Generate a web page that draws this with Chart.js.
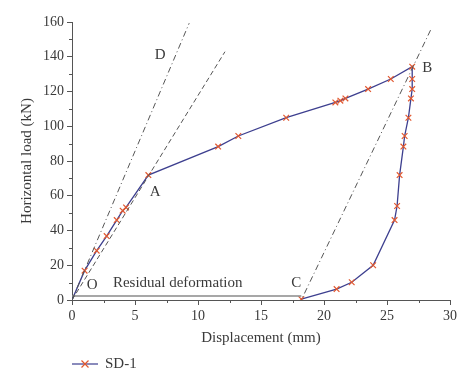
<!DOCTYPE html>
<html>
<head>
<meta charset="utf-8">
<script src="https://cdn.jsdelivr.net/npm/chart.js@4.4.1/dist/chart.umd.min.js"></script>
<style>
  html, body { margin: 0; padding: 0; background: #fff; }
  #wrap { width: 474px; height: 387px; }
</style>
</head>
<body>
<div id="wrap"><canvas id="chart"></canvas></div>
<script>
// ---------- dados ----------
const dispSD1 = [0, 1.0, 1.96, 2.75, 3.55, 4.02, 4.29, 6.06, 11.6, 13.2, 17.0, 20.9, 21.3, 21.7, 23.5, 25.3, 27.0,
                 27.0, 27.0, 26.9, 26.7, 26.4, 26.3, 26.0, 25.8, 25.6, 23.9, 22.2, 21.0, 18.2];
const loadSD1 = [0, 16.9, 28.4, 36.8, 46.0, 51.4, 53.3, 71.9, 88.3, 94.4, 104.9, 113.7, 114.7, 116.0, 121.4, 127.2, 134.3,
                 127.2, 121.4, 116.0, 104.9, 94.4, 88.3, 71.9, 54.1, 46.0, 20.0, 10.2, 6.3, 0.5];

// rectas de referência
const lineOD = [[0, 0], [9.3, 159.3]];
const lineOA = [[0, 0], [12.14, 142.9]];
const lineCB = [[18.0, -3], [28.5, 156]];
const residual = [[0, 2.3], [18.2, 2.3]];

const xTicks = [0, 5, 10, 15, 20, 25, 30];
const yTicks = [0, 20, 40, 60, 80, 100, 120, 140, 160];

// rótulos no gráfico: [texto, x, y]
const annotations = [
  ['D', 7.0, 141],
  ['A', 6.6, 62],
  ['B', 28.2, 133.5],
  ['C', 17.8, 9.8],
  ['O', 1.6, 8.6]
];
const residualLabel = ['Residual deformation', 3.25, 9.8];

const FONT = "'Liberation Serif', 'DejaVu Serif', serif";
const TXT = '#3a3a3a';
const AX = '#555';
const SERIES = '#3d3f8f';
const MARK = '#e2582f';

const toPts = arr => arr.map(p => ({ x: p[0], y: p[1] }));

// ---------- plugins ----------
const minorTicks = {
  id: 'minorTicks',
  afterDraw(chart) {
    const { ctx, scales: { x, y } } = chart;
    ctx.save();
    ctx.strokeStyle = AX;
    ctx.lineWidth = 1;
    ctx.beginPath();
    for (let v = 2.5; v < 30; v += 5) {
      const px = Math.round(x.getPixelForValue(v)) + 0.5;
      ctx.moveTo(px, y.bottom); ctx.lineTo(px, y.bottom + 3);
    }
    for (let v = 10; v < 160; v += 20) {
      const py = Math.round(y.getPixelForValue(v)) + 0.5;
      ctx.moveTo(x.left, py); ctx.lineTo(x.left - 3, py);
    }
    ctx.stroke();
    ctx.restore();
  }
};

const labelsPlugin = {
  id: 'labelsPlugin',
  afterDatasetsDraw(chart) {
    const { ctx, scales: { x, y } } = chart;
    ctx.save();
    ctx.fillStyle = TXT;
    ctx.font = '15px ' + FONT;
    ctx.textBaseline = 'middle';
    ctx.textAlign = 'center';
    annotations.forEach(([t, vx, vy]) => ctx.fillText(t, x.getPixelForValue(vx), y.getPixelForValue(vy)));
    ctx.textAlign = 'left';
    ctx.fillText(residualLabel[0], x.getPixelForValue(residualLabel[1]), y.getPixelForValue(residualLabel[2]));
    ctx.restore();
  }
};

const legendPlugin = {
  id: 'legendPlugin',
  afterDraw(chart) {
    const { ctx } = chart;
    const left = chart.chartArea.left;
    const ly = 364;
    ctx.save();
    ctx.strokeStyle = SERIES;
    ctx.lineWidth = 1.2;
    ctx.beginPath();
    ctx.moveTo(left, ly); ctx.lineTo(left + 26, ly);
    ctx.stroke();
    ctx.strokeStyle = MARK;
    ctx.beginPath();
    const cx = left + 13, r = 3.5;
    ctx.moveTo(cx - r, ly - r); ctx.lineTo(cx + r, ly + r);
    ctx.moveTo(cx - r, ly + r); ctx.lineTo(cx + r, ly - r);
    ctx.stroke();
    ctx.fillStyle = TXT;
    ctx.font = '15px ' + FONT;
    ctx.textBaseline = 'middle';
    ctx.fillText('SD-1', left + 33, ly);
    ctx.restore();
  }
};

// ---------- gráfico ----------
const ctx = document.getElementById('chart').getContext('2d');
new Chart(ctx, {
  type: 'scatter',
  data: {
    datasets: [
      { label: 'OD', data: toPts(lineOD), showLine: true, borderColor: '#555', borderWidth: 1, borderDash: [6, 3, 1, 3], pointRadius: 0 },
      { label: 'OA', data: toPts(lineOA), showLine: true, borderColor: '#555', borderWidth: 1, borderDash: [5, 3], pointRadius: 0 },
      { label: 'CB', data: toPts(lineCB), showLine: true, borderColor: '#555', borderWidth: 1, borderDash: [6, 3, 1, 3], pointRadius: 0 },
      { label: 'res', data: toPts(residual), showLine: true, borderColor: '#8a8a8a', borderWidth: 1.5, pointRadius: 0 },
      {
        label: 'SD-1',
        data: dispSD1.map((v, i) => ({ x: v, y: loadSD1[i] })),
        showLine: true,
        borderColor: SERIES,
        borderWidth: 1.3,
        pointStyle: 'crossRot',
        pointRadius: dispSD1.map((v, i) => i === 0 ? 0 : 4),
        pointBorderColor: MARK,
        pointBorderWidth: 1.2,
        pointBackgroundColor: MARK
      }
    ]
  },
  options: {
    responsive: true,
    maintainAspectRatio: false,
    animation: false,
    layout: { padding: { left: 14, right: 24, top: 22, bottom: 36 } },
    plugins: { legend: { display: false }, tooltip: { enabled: false } },
    scales: {
      x: {
        type: 'linear', min: 0, max: 30,
        afterBuildTicks: s => { s.ticks = xTicks.map(v => ({ value: v })); },
        afterFit: s => { s.height = 51; },
        border: { display: true, color: AX, width: 1 },
        grid: { drawOnChartArea: false, drawTicks: true, tickLength: 5, color: AX },
        ticks: { color: TXT, font: { family: FONT, size: 14 }, padding: 3, maxRotation: 0 },
        title: { display: true, text: 'Displacement (mm)', color: TXT, font: { family: FONT, size: 15 }, padding: { top: 2, bottom: 4 } }
      },
      y: {
        type: 'linear', min: 0, max: 160,
        afterBuildTicks: s => { s.ticks = yTicks.map(v => ({ value: v })); },
        afterFit: s => { s.width = 58; },
        border: { display: true, color: AX, width: 1 },
        grid: { drawOnChartArea: false, drawTicks: true, tickLength: 5, color: AX },
        ticks: { color: TXT, font: { family: FONT, size: 14 }, padding: 3 },
        title: { display: true, text: 'Horizontal load (kN)', color: TXT, font: { family: FONT, size: 15 }, padding: { top: 4, bottom: 2 } }
      }
    }
  },
  plugins: [minorTicks, labelsPlugin, legendPlugin]
});
</script>
</body>
</html>
